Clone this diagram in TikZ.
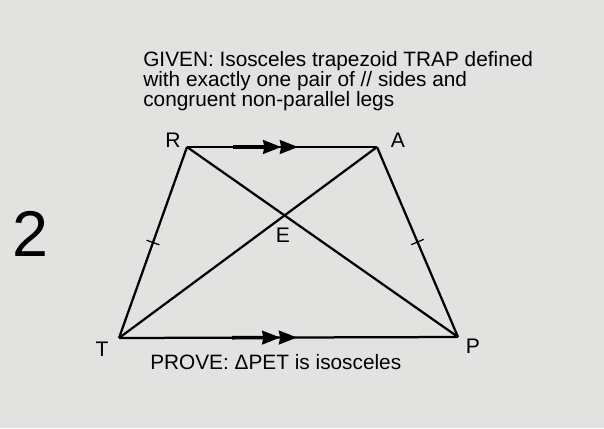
\documentclass[tikz,border=0pt]{standalone}
\usepackage{fontspec}
\setmainfont{Liberation Sans}
\usetikzlibrary{decorations.markings}
\definecolor{paper}{RGB}{226,226,224}

\begin{document}
\begin{tikzpicture}[
    side/.style={line width=1.6pt, line join=round},
    parallel/.style={postaction={decorate,decoration={markings,
        mark=at position #1 with {\draw[line width=2.6pt] (-1.62,0) -- (-0.84,0);
            \fill (0,0) -- (-0.46,0.18) -- (-0.42,0) -- (-0.46,-0.18) -- cycle;
            \fill (-0.42,0) -- (-0.88,0.18) -- (-0.84,0) -- (-0.88,-0.18) -- cycle;}}}},
    congruent/.style={postaction={decorate,decoration={markings,
        mark=at position 0.5 with {\draw[line width=0.9pt] (0,-0.17) -- (0,0.17);}}}},
    vertex/.style={font=\fontsize{15}{15}\selectfont, inner sep=0pt},
    words/.style={font=\fontsize{14.8}{14.23}\selectfont, inner sep=0pt}
]
    \fill[paper] (0,0) rectangle (15.1,-10.7);
    \useasboundingbox (0,0) rectangle (15.1,-10.7);

    \node[font=\fontsize{46}{46}\selectfont, inner sep=0pt] (num) at (0.75,-5.85) {2};
    \node[words, anchor=base west, align=left] (given) at (3.575,-2.667)
        {GIVEN: Isosceles trapezoid TRAP defined\\
         with exactly one pair of // sides and\\
         congruent non-parallel legs};

    \coordinate (R) at (4.675,-3.675);
    \coordinate (A) at (9.425,-3.675);
    \coordinate (T) at (2.975,-8.45);
    \coordinate (P) at (11.45,-8.425);

    \draw[side, parallel=0.584] (R) -- (A);
    \draw[side, parallel=0.525] (T) -- (P);
    \draw[side, congruent] (T) -- (R);
    \draw[side, congruent] (A) -- (P);
    \draw[side] (R) -- (P);
    \draw[side] (A) -- (T);

    \node[vertex] (lR) at (4.325,-3.5) {R};
    \node[vertex] (lA) at (9.95,-3.5) {A};
    \node[vertex] (lT) at (2.55,-8.725) {T};
    \node[vertex] (lP) at (11.825,-8.65) {P};
    \node[vertex] (lE) at (7.075,-5.875) {E};

    \node[words, anchor=base west] (prove) at (3.75,-9.225) {PROVE: ΔPET is isosceles};
% P E T uses the diagonals of the trapezoid
\end{tikzpicture}
\end{document}
